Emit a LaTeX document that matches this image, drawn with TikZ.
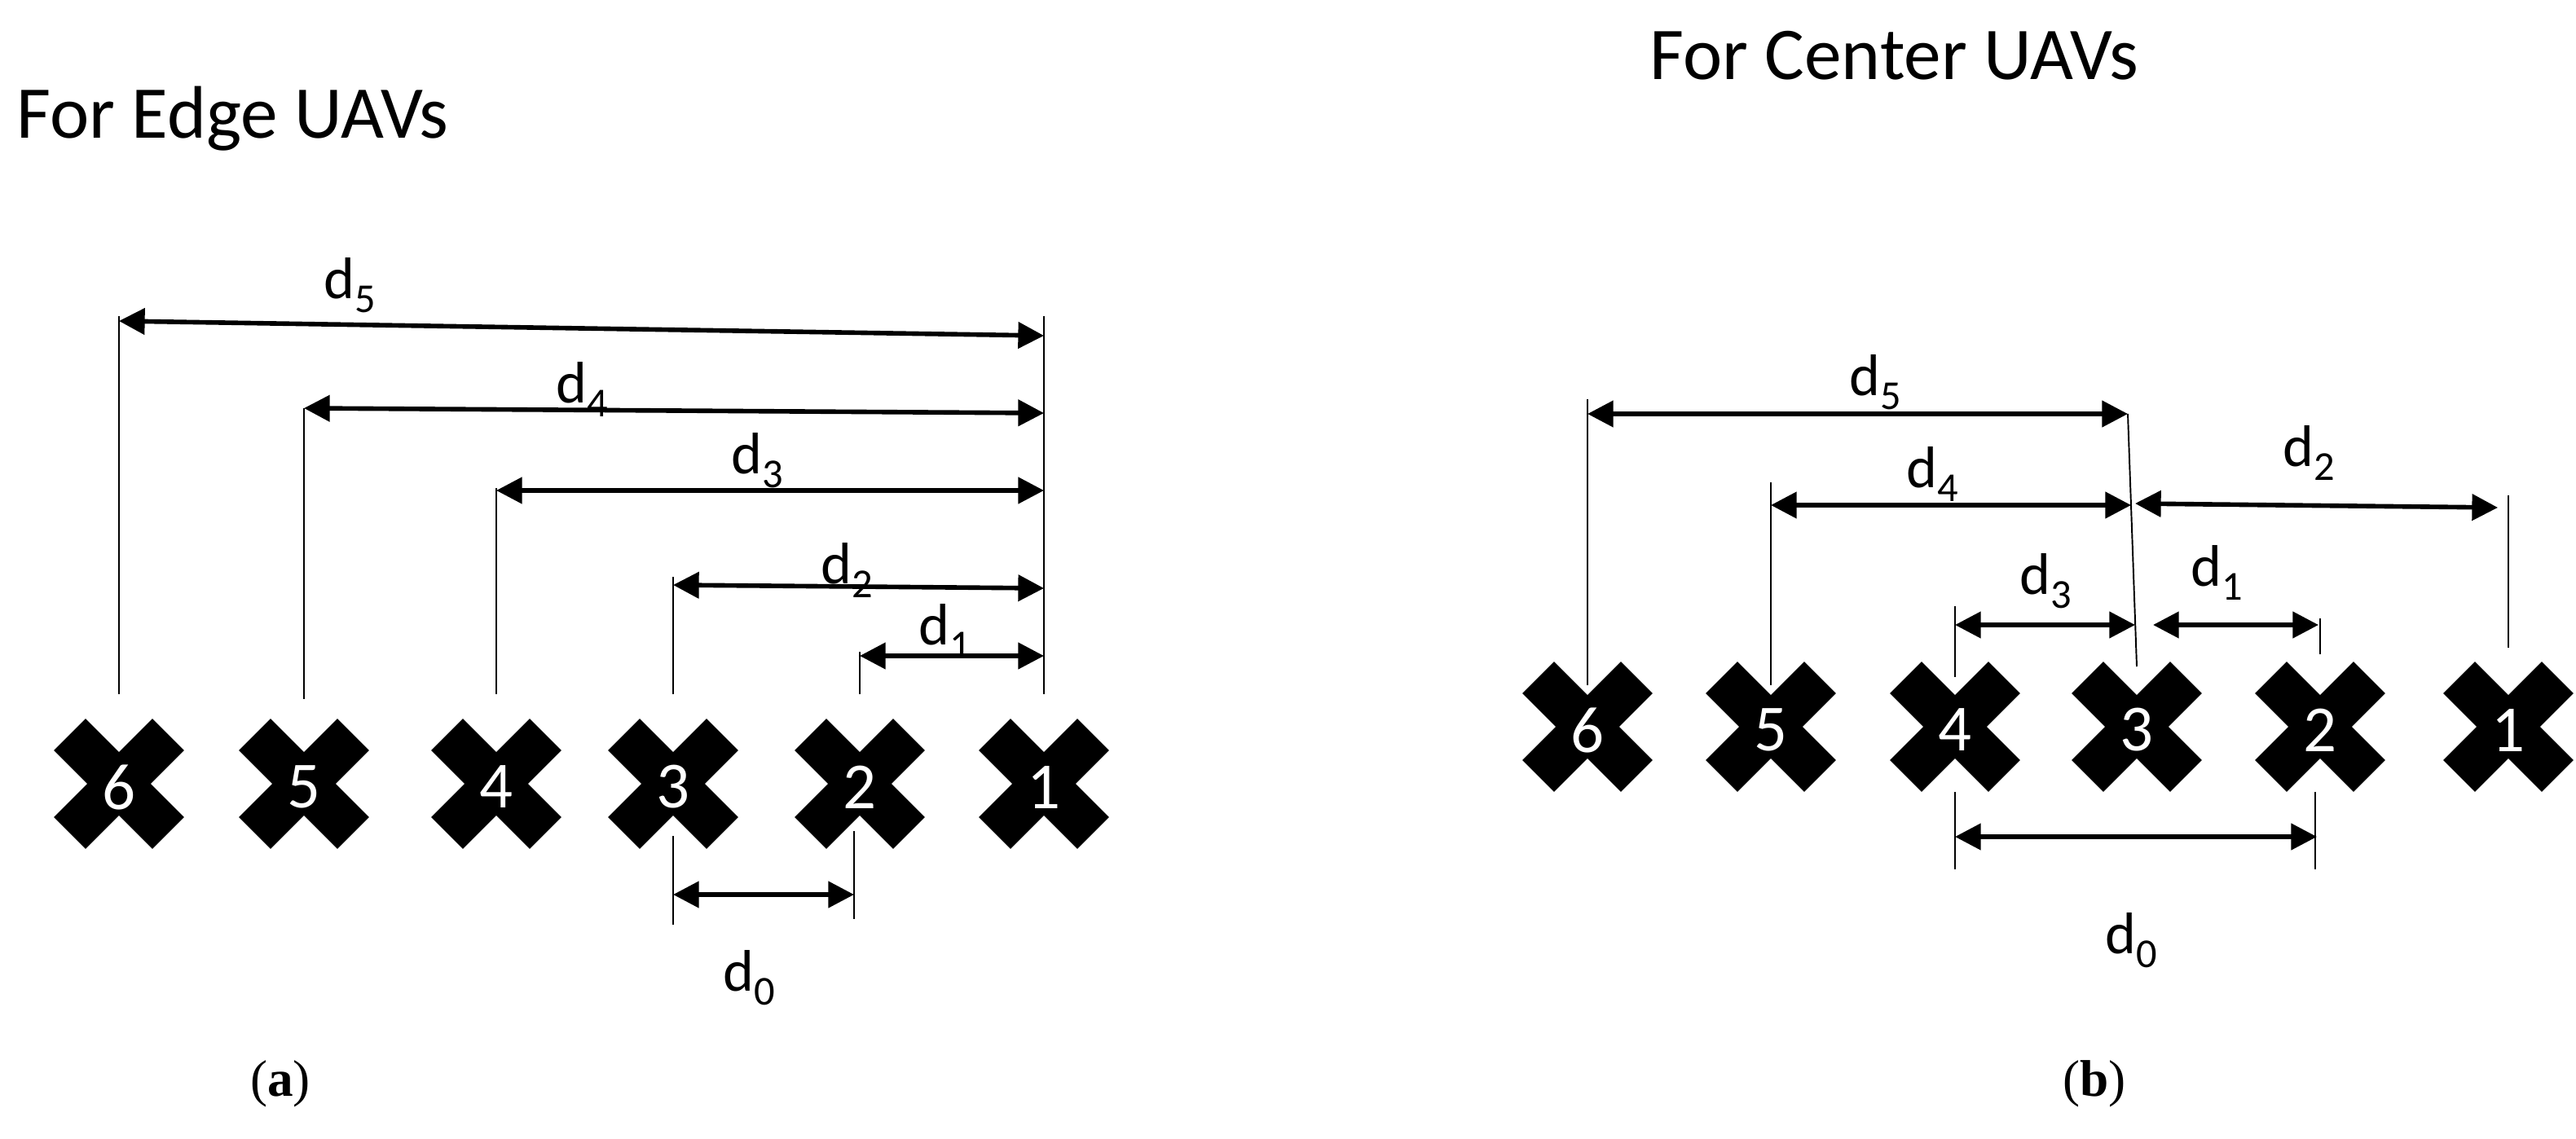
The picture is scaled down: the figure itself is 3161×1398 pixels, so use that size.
\documentclass[tikz,border=0pt]{standalone}
\usepackage{fontspec}
\setmainfont{Carlito}
\newfontfamily\capfont{Liberation Serif}
\usetikzlibrary{arrows.meta,calc}
\tikzset{
  dim/.style={line width=3.2pt,{Triangle[length=18pt,width=18pt]}-{Triangle[length=18pt,width=18pt]}},
  ext/.style={line width=1.1pt},
  lab/.style={font=\fontsize{41}{44}\selectfont,inner sep=0pt},
  num/.style={font=\fontsize{46}{48}\selectfont,text=white,inner sep=0pt},
  ttl/.style={font=\fontsize{52}{56}\selectfont,inner sep=0pt,anchor=west},
  captxt/.style={font=\capfont\fontsize{36}{40}\selectfont,inner sep=0pt}
}
\newcommand{\uavx}[4]{%
  \fill[rotate around={45:(#1,#2)}] ($(#1,#2)+(-85.5,-27.5)$) rectangle ($(#1,#2)+(85.5,27.5)$);
  \fill[rotate around={-45:(#1,#2)}] ($(#1,#2)+(-85.5,-27.5)$) rectangle ($(#1,#2)+(85.5,27.5)$);
  \node[num] (#4) at (#1,#2+4) {#3};}
\begin{document}
\begin{tikzpicture}[x=0.2mm,y=-0.2mm]
\useasboundingbox (0,0) rectangle (3161,1398);
% ---------- panel a
\node[ttl] (ta) at (20,146) {For Edge UAVs};
\uavx{146}{962}{6}{a6}
\uavx{373}{962}{5}{a5}
\uavx{609}{962}{4}{a4}
\uavx{826}{962}{3}{a3}
\uavx{1055}{962}{2}{a2}
\uavx{1281}{962}{1}{a1}
\coordinate (a6t) at (146,388); \coordinate (a6b) at (146,852);
\coordinate (a5t) at (373,501); \coordinate (a5b) at (373,858);
\coordinate (a4t) at (609,599); \coordinate (a4b) at (609,852);
\coordinate (a3t) at (826,708); \coordinate (a3b) at (826,852);
\coordinate (a2t) at (1055,800); \coordinate (a2b) at (1055,852);
\coordinate (a1t) at (1281,388); \coordinate (a1b) at (1281,852);
\foreach \i in {1,...,6} \draw[ext] (a\i t) -- (a\i b);
\coordinate (a3u) at (826,1026); \coordinate (a3d) at (826,1135);
\coordinate (a2u) at (1048,1020); \coordinate (a2d) at (1048,1128);
\draw[ext] (a3u) -- (a3d); \draw[ext] (a2u) -- (a2d);
\draw[dim] (146,394) -- (1281,412);
\draw[dim] (373,501) -- (1281,507);
\draw[dim] (609,602) -- (1281,602);
\draw[dim] (826,718) -- (1281,722);
\draw[dim] (1055,805) -- (1281,805);
\draw[dim] (826,1098) -- (1048,1098);
\node[lab] (la5) at (430,350) {d\textsubscript{5}};
\node[lab] (la4) at (715,478) {d\textsubscript{4}};
\node[lab] (la3) at (930,565) {d\textsubscript{3}};
\node[lab] (la2) at (1040,700) {d\textsubscript{2}};
\node[lab] (la1) at (1160,775) {d\textsubscript{1}};
\node[lab] (la0) at (920,1200) {d\textsubscript{0}};
\node[captxt] (ca) at (344,1330) {(\textbf{a})};
% ---------- panel b
\node[ttl] (tb) at (2024,68) {For Center UAVs};
\uavx{1948}{892}{6}{b6}
\uavx{2173}{892}{5}{b5}
\uavx{2399}{892}{4}{b4}
\uavx{2622}{892}{3}{b3}
\uavx{2847}{892}{2}{b2}
\uavx{3078}{892}{1}{b1}
\coordinate (b6t) at (1948,490); \coordinate (b6b) at (1948,841);
\coordinate (b5t) at (2173,592); \coordinate (b5b) at (2173,841);
\coordinate (b4t) at (2399,744); \coordinate (b4b) at (2399,831);
\coordinate (b3t) at (2611,508); \coordinate (b3b) at (2622,818);
\coordinate (b2t) at (2847,759); \coordinate (b2b) at (2847,803);
\coordinate (b1t) at (3078,608); \coordinate (b1b) at (3078,795);
\foreach \i in {1,...,6} \draw[ext] (b\i t) -- (b\i b);
\coordinate (b4u) at (2399,972); \coordinate (b4d) at (2399,1067);
\coordinate (b2u) at (2841,972); \coordinate (b2d) at (2841,1067);
\draw[ext] (b4u) -- (b4d); \draw[ext] (b2u) -- (b2d);
\draw[dim] (1948,508) -- (2611,508);
\draw[dim] (2173,620) -- (2615,620);
\draw[dim] (2620,618) -- (3065,623);
\draw[dim] (2399,767) -- (2620,767);
\draw[dim] (2642,767) -- (2845,767);
\draw[dim] (2399,1027) -- (2843,1027);
\node[lab] (lb5) at (2302,469) {d\textsubscript{5}};
\node[lab] (lb4) at (2372,582) {d\textsubscript{4}};
\node[lab] (lb2) at (2834,556) {d\textsubscript{2}};
\node[lab] (lb3) at (2511,713) {d\textsubscript{3}};
\node[lab] (lb1) at (2721,703) {d\textsubscript{1}};
\node[lab] (lb0) at (2616,1154) {d\textsubscript{0}};
\node[captxt] (cb) at (2570,1330) {(\textbf{b})};
\end{tikzpicture}
\end{document}
